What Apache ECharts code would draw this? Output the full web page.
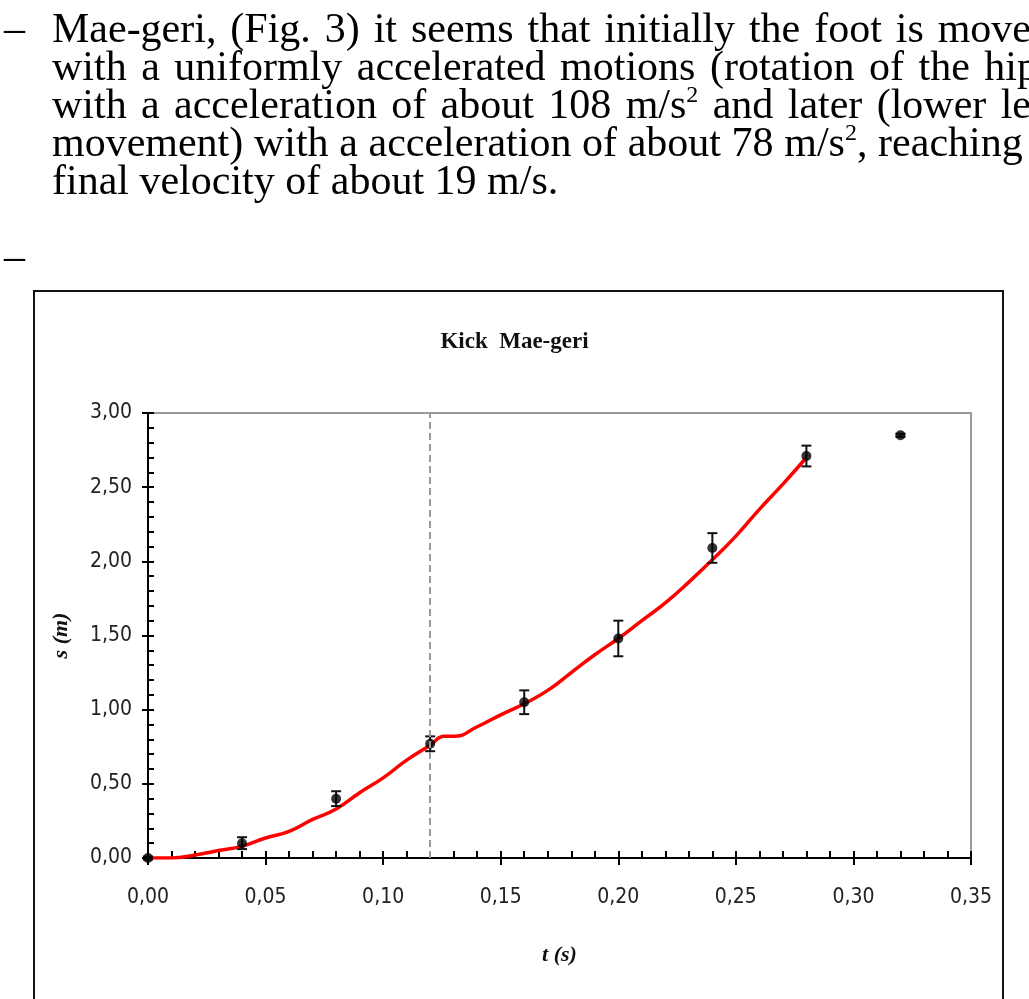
<!DOCTYPE html>
<html>
<head>
<meta charset="utf-8">
<title>Kick Mae-geri</title>
<script src="https://cdn.jsdelivr.net/npm/echarts@6/dist/echarts.min.js"></script>
<style>
  html, body { margin: 0; padding: 0; background: #fff; }
  .page { position: relative; width: 1029px; height: 999px; overflow: hidden; }
  .text { position: absolute; left: 0; top: 0; width: 1029px; font-family: 'Liberation Serif', 'Times New Roman', serif;
    font-size: 42px; line-height: 37.7px; color: #000; white-space: nowrap; z-index: 2; }
  .text .line { position: absolute; left: 52px; }
  /* justified lines run past the right edge of the scan */
  .text .just { width: 1000px; white-space: normal; text-align: justify; text-align-last: justify; }
  .text .dash { position: absolute; left: 4px; }
  .text sup { font-size: 24px; vertical-align: 16px; line-height: 0; }
  #chartId { position: absolute; left: 0; top: 0; width: 1029px; height: 999px; }
</style>
</head>
<body>
<div class="page">
  <div class="text">
    <div class="dash" style="top: 10px">–</div>
    <div class="line just" style="top: 10px">Mae-geri, (Fig. 3) it seems that initially the foot is moved</div>
    <div class="line just" style="top: 48px">with a uniformly accelerated motions (rotation of the hip)</div>
    <div class="line just" style="top: 86px">with a acceleration of about 108 m/s<sup>2</sup> and later (lower leg</div>
    <div class="line just" style="top: 124px">movement) with a acceleration of about 78 m/s<sup>2</sup>, reaching a</div>
    <div class="line" style="top: 162px">final velocity of about 19 m/s.</div>
    <div class="dash" style="top: 238px">–</div>
  </div>
  <div id="chartId"></div>
</div>
<script>
// measured points (t in s, s in m) with error bars
var pointT = [0, 0.04, 0.08, 0.12, 0.16, 0.20, 0.24, 0.28, 0.32]
var pointS = [0, 0.10, 0.40, 0.77, 1.05, 1.48, 2.09, 2.71, 2.85]
var pointErr = [0.01, 0.04, 0.05, 0.05, 0.08, 0.12, 0.10, 0.07, 0.01]

// fitted red curve
var curveT = [0, 0.01, 0.02, 0.03, 0.04, 0.05, 0.06, 0.07, 0.08, 0.09, 0.10, 0.11, 0.12, 0.126, 0.13,
  0.14, 0.15, 0.16, 0.17, 0.18, 0.19, 0.20, 0.21, 0.22, 0.23, 0.24, 0.25, 0.26, 0.27, 0.28]
var curveS = [0, 0.00, 0.02, 0.05, 0.08, 0.135, 0.18, 0.26, 0.33, 0.44, 0.54, 0.66, 0.76, 0.82, 0.82,
  0.885, 0.965, 1.04, 1.13, 1.25, 1.37, 1.48, 1.60, 1.72, 1.86, 2.01, 2.17, 2.35, 2.52, 2.70]

var xTicks = [0, 0.35, 0.05]  // min, max, interval
var yTicks = [0, 3, 0.5]
var dividerT = 0.12

var myChart = echarts.init(document.getElementById('chartId'))

function fmt(v) {
  return v.toFixed(2).replace('.', ',')
}

var tickFont = {
  fontFamily: "'Liberation Sans Narrow', 'DejaVu Sans Condensed', sans-serif",
  fontSize: 21,
  color: '#222'
}
var nameFont = {
  fontFamily: "'Liberation Serif', serif",
  fontStyle: 'italic',
  fontWeight: 'bold',
  fontSize: 22,
  color: '#111'
}

function makeX(withLabels) {
  return {
    type: 'value',
    min: xTicks[0],
    max: xTicks[1],
    interval: xTicks[2],
    position: 'bottom',
    name: withLabels ? 't (s)' : '',
    nameLocation: 'middle',
    nameGap: 86,
    nameTextStyle: nameFont,
    axisLine: { show: true, lineStyle: { color: '#000', width: 2 } },
    axisTick: { show: true, inside: !withLabels, length: 7, lineStyle: { color: '#000', width: 2 } },
    minorTick: { show: !withLabels, splitNumber: 5, length: 7, lineStyle: { color: '#000', width: 2 } },
    axisLabel: Object.assign({ show: withLabels, margin: 29, formatter: fmt }, tickFont),
    splitLine: { show: false }
  }
}

function makeY(withLabels) {
  return {
    type: 'value',
    min: yTicks[0],
    max: yTicks[1],
    interval: yTicks[2],
    position: 'left',
    name: withLabels ? 's (m)' : '',
    nameLocation: 'middle',
    nameGap: 76,
    nameRotate: 90,
    nameTextStyle: nameFont,
    axisLine: { show: true, lineStyle: { color: '#000', width: 2 } },
    axisTick: { show: true, inside: !withLabels, length: 6, lineStyle: { color: '#000', width: 2 } },
    minorTick: { show: !withLabels, splitNumber: 5, length: 6, lineStyle: { color: '#000', width: 2 } },
    axisLabel: Object.assign({ show: withLabels, margin: 16, formatter: fmt }, tickFont),
    splitLine: { show: false }
  }
}

var pointData = pointT.map(function (t, i) { return [t, pointS[i]] })
var errData = pointT.map(function (t, i) { return [t, pointS[i] - pointErr[i], pointS[i] + pointErr[i]] })
var curveData = curveT.map(function (t, i) { return [t, curveS[i]] })

var option = {
  animation: false,
  title: {
    text: 'Kick  Mae-geri',
    left: 'center',
    top: 326,
    textStyle: { fontFamily: "'Liberation Serif', serif", fontWeight: 'bold', fontSize: 23, color: '#111' }
  },
  graphic: [
    {
      type: 'rect',
      shape: { x: 34, y: 291, width: 969, height: 800 },
      style: { fill: 'none', stroke: '#111', lineWidth: 2 },
      silent: true
    }
  ],
  grid: {
    left: 148,
    top: 413,
    right: 58,
    bottom: 141,
    show: true,
    borderColor: '#999',
    borderWidth: 2,
    backgroundColor: 'transparent'
  },
  xAxis: [makeX(true), makeX(false)],
  yAxis: [makeY(true), makeY(false)],
  series: [
    {
      name: 'fit',
      type: 'line',
      data: curveData,
      smooth: true,
      showSymbol: false,
      lineStyle: { color: '#ff0000', width: 3.5 },
      markLine: {
        silent: true,
        symbol: 'none',
        label: { show: false },
        lineStyle: { color: '#999', type: [7, 4], width: 2 },
        data: [{ xAxis: dividerT }]
      },
      z: 2
    },
    {
      name: 'error',
      type: 'custom',
      data: errData,
      renderItem: function (params, api) {
        var lo = api.coord([api.value(0), api.value(1)])
        var hi = api.coord([api.value(0), api.value(2)])
        var w = 5
        var st = { stroke: '#111', lineWidth: 2 }
        return {
          type: 'group',
          children: [
            { type: 'line', shape: { x1: lo[0], y1: lo[1], x2: hi[0], y2: hi[1] }, style: st },
            { type: 'line', shape: { x1: lo[0] - w, y1: lo[1], x2: lo[0] + w, y2: lo[1] }, style: st },
            { type: 'line', shape: { x1: hi[0] - w, y1: hi[1], x2: hi[0] + w, y2: hi[1] }, style: st }
          ]
        }
      },
      z: 3
    },
    {
      name: 'measured',
      type: 'scatter',
      data: pointData,
      symbol: 'circle',
      symbolSize: 10,
      itemStyle: { color: '#000' },
      z: 4
    }
  ]
}

myChart.setOption(option)
</script>
</body>
</html>
